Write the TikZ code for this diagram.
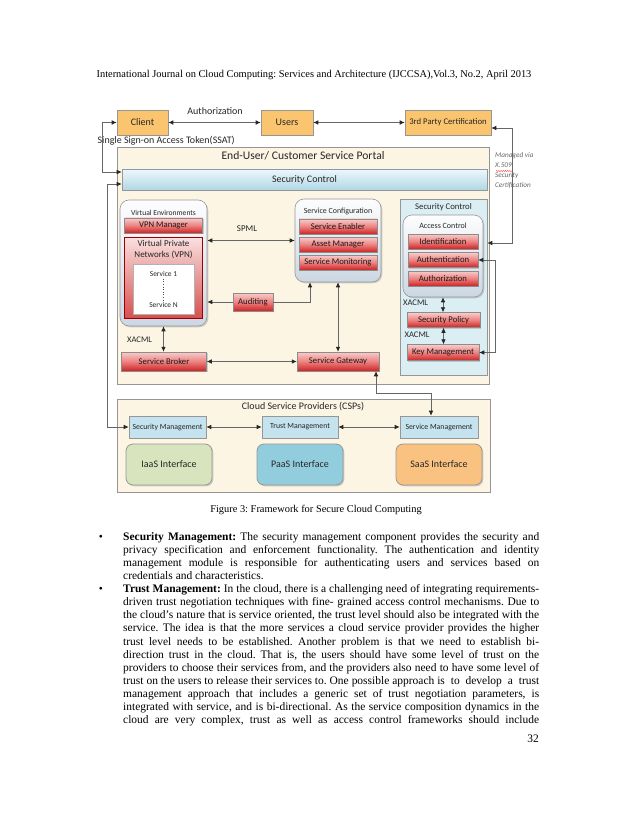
\documentclass[tikz,border=0pt]{standalone}
\usepackage{fontspec}
\setmainfont{Liberation Serif}
\newfontfamily\figfont{Carlito}
\usetikzlibrary{arrows.meta,shadows,calc,decorations.pathmorphing}
\newcommand\fsz[2]{\fontsize{#1}{#2}\selectfont}
\frenchspacing
\definecolor{oboxc}{RGB}{250,197,110}
\definecolor{cream}{RGB}{253,245,228}
\definecolor{sbtop}{RGB}{238,247,251}
\definecolor{sbbot}{RGB}{176,216,230}
\definecolor{redtop}{RGB}{247,205,203}
\definecolor{redmid}{RGB}{236,130,128}
\definecolor{redbot}{RGB}{205,35,35}
\definecolor{vtop}{RGB}{253,253,254}
\definecolor{vbot}{RGB}{203,215,227}
\definecolor{vpntop}{RGB}{249,225,224}
\definecolor{vpnbot}{RGB}{214,80,78}
\definecolor{scpanelc}{RGB}{218,238,244}
\definecolor{lbluec}{RGB}{196,227,239}
\definecolor{iaasc}{RGB}{215,228,189}
\definecolor{paasc}{RGB}{146,205,221}
\definecolor{saasc}{RGB}{250,194,128}
\definecolor{edge}{RGB}{150,150,150}
\tikzset{
  edgeline/.style={draw=edge, line width=0.6pt},
  shad/.style={drop shadow={shadow xshift=1.3pt,shadow yshift=-1.3pt,opacity=0.35}},
  obox/.style={edgeline, fill=oboxc, shad, inner sep=0pt, minimum height=25pt, text=black!85},
  panel/.style={edgeline, fill=cream, shad, inner sep=0pt},
  redbox/.style={draw=black!45, line width=0.5pt, top color=redtop, bottom color=redbot, middle color=redmid, shad, inner sep=0pt, minimum height=15pt, font=\figfont\fsz{8.7}{10}, text=black!90},
  roundbox/.style={edgeline, rounded corners=9pt, top color=vtop, bottom color=vbot, shad, inner sep=0pt},
  bluebox/.style={edgeline, fill=lbluec, shad, inner sep=0pt, minimum height=22pt, font=\figfont\fsz{7.8}{9}, text=black!85},
  iface/.style={draw=edge, line width=0.8pt, rounded corners=7pt, shad, inner sep=0pt, minimum width=86pt, minimum height=41pt, font=\figfont\fsz{10}{12}, text=black!85},
  lbl/.style={inner sep=0pt, font=\figfont\fsz{#1}{#1}, text=black!85},
  arr/.style={draw=black!60, line width=0.7pt, arrows={Latex[length=5pt,width=4.6pt,color=black!85]-Latex[length=5pt,width=4.6pt,color=black!85]}},
  arrto/.style={draw=black!60, line width=0.7pt, arrows={-Latex[length=5pt,width=4.6pt,color=black!85]}},
  body/.style={inner sep=0pt, anchor=base west, font=\fsz{11.47}{13.2}},
}
\newcommand\jline[3]{\node[body] (#1) at (123,#2) {\hbox to 416pt{#3}};}
\begin{document}
\begin{tikzpicture}[x=1pt,y=-1pt]
\useasboundingbox (0,0) rectangle (638,826);
\fill[white] (0,0) rectangle (638,826);

% header
\node[anchor=base, inner sep=0pt, font=\fsz{10.4}{12}] (hdr) at (314,78) {International Journal on Cloud Computing: Services and Architecture (IJCCSA),Vol.3, No.2, April 2013};

% ---------- figure ----------
\node[panel, minimum width=372pt, minimum height=237pt] (portal) at (303,265.5) {};
\node[panel, minimum width=373pt, minimum height=93pt] (csp) at (303.5,445.5) {};

% top row
\node[obox, minimum width=51pt, font=\figfont\fsz{10}{12}] (client) at (142.5,122.5) {Client};
\node[obox, minimum width=52pt, font=\figfont\fsz{10}{12}] (users) at (287,122.5) {Users};
\node[obox, minimum width=86pt, font=\figfont\fsz{8.7}{10}] (third) at (448,122.5) {3rd Party Certification};
\node[lbl=10] (authz-lbl) at (215,111) {Authorization};
\node[lbl=10, anchor=east] (ssat) at (235,141) {Single Sign-on Access Token(SSAT)};

\node[lbl=11.6] (ptitle) at (303,156) {End-User/ Customer Service Portal};
\node[edgeline, top color=sbtop, bottom color=sbbot, shad, inner sep=0pt, minimum width=365pt, minimum height=21pt, font=\figfont\fsz{10}{12}, text=black!85] (secbar) at (304.5,179.5) {Security Control};

\node[anchor=north west, align=left, inner sep=0pt, font=\figfont\itshape\fsz{7.2}{10}, text=black!60] (managed) at (495,152) {Managed via\\X.509\\Security\\Certification};
\draw[red!80, line width=0.4pt, decorate, decoration={snake, amplitude=0.5pt, segment length=2.2pt}] ($(managed.north west)+(1,19)$) -- ++(16,0);

% virtual environments
\node[roundbox, minimum width=87pt, minimum height=126pt] (ve) at (163.5,263) {};
\node[lbl=7.6] (vetitle) at (163.5,213) {Virtual Environments};
\node[redbox, minimum width=78pt] (vpnmgr) at (163.5,225.5) {VPN Manager};
\node[draw=red!60!black, line width=0.6pt, top color=vpntop, bottom color=vpnbot, inner sep=0pt, minimum width=78pt, minimum height=81pt] (vpn) at (163.5,277.5) {};
\node[lbl=9, align=center, font=\figfont\fsz{9}{11}] (vpntxt) at (163.5,249.5) {Virtual Private\\Networks (VPN)};
\node[draw=black!30, fill=white, shad, inner sep=0pt, minimum width=61pt, minimum height=50pt] (svcbox) at (163.5,289) {};
\node[lbl=7.5] (svc1) at (163.5,274) {Service 1};
\node[lbl=7.5] (svcn) at (163.5,305) {Service N};
\draw[dotted, black!70, line width=0.6pt] ($(svc1.south)+(0,2)$) -- ($(svcn.north)+(0,-2)$);

% service configuration
\node[roundbox, minimum width=86pt, minimum height=83pt] (sc) at (338,240.5) {};
\node[lbl=7.9] (sctitle) at (338,211) {Service Configuration};
\node[redbox, minimum width=78pt] (senabler) at (338,226.5) {Service Enabler};
\node[redbox, minimum width=78pt] (asset) at (338,244.5) {Asset Manager};
\node[redbox, minimum width=78pt] (smon) at (338,262.5) {Service Monitoring};

\node[lbl=8.9] (spml) at (247,229) {SPML};
\node[redbox, minimum width=40pt, minimum height=18pt] (audit) at (253,302) {Auditing};

\node[lbl=8.6] (xacml1) at (139.5,340) {XACML};
\node[redbox, minimum width=85pt, minimum height=19pt] (broker) at (164,361.5) {Service Broker};
\node[redbox, minimum width=82pt, minimum height=19pt] (gateway) at (338,361.5) {Service Gateway};

% security control panel
\node[edgeline, fill=scpanelc, shad, inner sep=0pt, minimum width=87pt, minimum height=176pt] (scpanel) at (443.5,287) {};
\node[lbl=8.7] (scptitle) at (443.5,207) {Security Control};
\node[roundbox, minimum width=80pt, minimum height=82pt] (ac) at (443,256) {};
\node[lbl=8] (actitle) at (443,226) {Access Control};
\node[redbox, minimum width=70pt] (ident) at (443,241.5) {Identification};
\node[redbox, minimum width=70pt] (authn) at (443,260) {Authentication};
\node[redbox, minimum width=70pt] (authzb) at (443,278.5) {Authorization};
\node[lbl=8.6] (xacml2) at (415.5,303) {XACML};
\node[redbox, minimum width=73pt] (secpol) at (443.5,320) {Security Policy};
\node[lbl=8.6] (xacml3) at (417,335) {XACML};
\node[redbox, minimum width=72pt, minimum height=16pt] (keymgmt) at (443,352.5) {Key Management};

% cloud service providers
\node[lbl=10] (csptitle) at (303,407) {Cloud Service Providers (CSPs)};
\node[bluebox, minimum width=77pt] (secmgmt) at (167.5,427) {Security Management};
\node[bluebox, minimum width=76pt] (trustmgmt) at (300,427) {Trust Management};
\node[bluebox, minimum width=78pt] (servmgmt) at (439,427) {Service Management};
\node[iface, fill=iaasc] (iaas) at (169,464.5) {IaaS Interface};
\node[iface, fill=paasc] (paas) at (300,464.5) {PaaS Interface};
\node[iface, fill=saasc] (saas) at (439,464.5) {SaaS Interface};

% connectors
\draw[arr] (client.east) -- (users.west);
\draw[arr] (users.east) -- (third.west);
\draw[arr] (client.west) -- ++(-14,0) |- ($(secbar.west)+(0,-7.5)$);
\draw[arr] ($(secbar.west)+(0,4.5)$) -- ++(-14,0) |- (secmgmt.west);
\draw[arr] ($(third.east)+(0,5.5)$) -- ++(21,0) |- ($(scpanel.east)+(0,-44)$);
\draw[arr] (keymgmt.east) -- ++(16,0) |- (authn.east);
\draw[arr] (ve.east |- sc.west) -- (sc.west);
\draw[arrto] (audit.west) -- (audit.west -| ve.east);
\draw[arrto] (audit.east) -| ($(sc.south)+(-28,0)$);
\draw[arr] (sc.south) -- (gateway.north);
\draw[arr] (ve.south) -- (ve.south |- broker.north);
\draw[arr] (broker.east) -- (gateway.west);
\draw[arr] ($(gateway.south)+(38,0)$) -- ++(0,22.5) -| ($(servmgmt.north)+(-8,0)$);
\draw[arr] (ac.south) -- (ac.south |- secpol.north);
\draw[arr] (secpol.south) -- (secpol.south |- keymgmt.north);
\draw[arr] (secmgmt.east) -- (trustmgmt.west);
\draw[arr] (trustmgmt.east) -- (servmgmt.west);

% caption
\node[anchor=base, inner sep=0pt, font=\fsz{10.4}{12}] (caption) at (316,512) {Figure 3: Framework for Secure Cloud Computing};

% body text
\node[body, anchor=base] (b1) at (101,540) {\textbullet};
\node[body, anchor=base] (b2) at (101,592.5) {\textbullet};
\jline{l1}{540}{\textbf{Security Management:} The security management component provides the security and}
\jline{l2}{553.1}{privacy specification and enforcement functionality. The authentication and identity}
\jline{l3}{566.3}{management module is responsible for authenticating users and services based on}
\node[body] (l4) at (123,579.4) {credentials and characteristics.};
\jline{l5}{592.5}{\textbf{Trust Management:} In the cloud, there is a challenging need of integrating requirements-}
\jline{l6}{605.7}{driven trust negotiation techniques with fine- grained access control mechanisms. Due to}
\jline{l7}{618.8}{the cloud’s nature that is service oriented, the trust level should also be integrated with the}
\jline{l8}{631.9}{service. The idea is that the more services a cloud service provider provides the higher}
\jline{l9}{645}{trust level needs to be established. Another problem is that we need to establish bi-}
\jline{l10}{658.2}{direction trust in the cloud. That is, the users should have some level of trust on the}
\jline{l11}{671.3}{providers to choose their services from, and the providers also need to have some level of}
\jline{l12}{684.4}{trust on the users to release their services to. One possible approach is \ to \ develop \ a \ trust}
\jline{l13}{697.6}{management approach that includes a generic set of trust negotiation parameters, is}
\jline{l14}{710.7}{integrated with service, and is bi-directional. As the service composition dynamics in the}
\jline{l15}{723.8}{cloud are very complex, trust as well as access control frameworks should include}
\node[body, anchor=base east] (pnum) at (539,742.5) {32};
\end{tikzpicture}
\end{document}
